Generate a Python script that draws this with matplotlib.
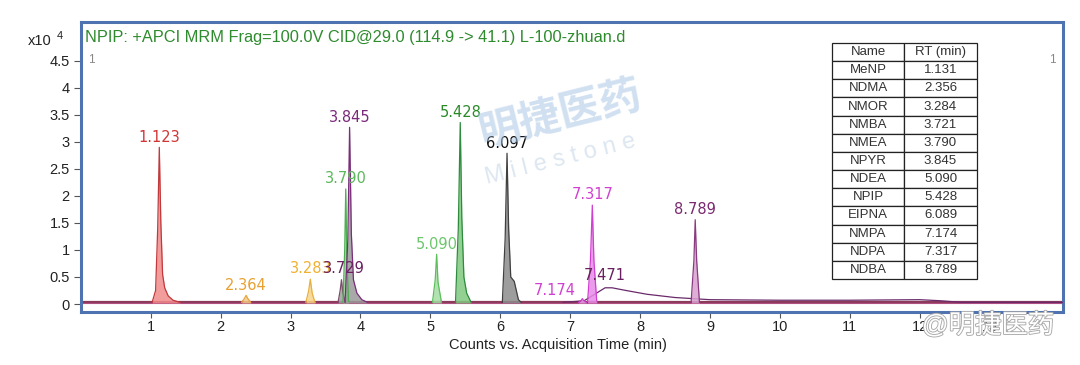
import matplotlib
matplotlib.use("Agg")
import matplotlib.pyplot as plt
import matplotlib.patheffects as pe

plt.rcParams['font.family'] = ['Liberation Sans', 'Noto Sans CJK SC', 'DejaVu Sans']

# ---------------- data ----------------
title_text = "NPIP: +APCI MRM Frag=100.0V CID@29.0 (114.9 -> 41.1) L-100-zhuan.d"
x_label = "Counts vs. Acquisition Time (min)"
x_ticks = [1, 2, 3, 4, 5, 6, 7, 8, 9, 10, 11, 12, 13]
y_ticks = [0, 0.5, 1, 1.5, 2, 2.5, 3, 3.5, 4, 4.5]
y_tick_labels = ["0", "0.5", "1", "1.5", "2", "2.5", "3", "3.5", "4", "4.5"]

# peak outlines (time in min, counts in 1e4)
peak_labels = ["1.123", "2.364", "3.283", "3.729", "3.790", "3.845",
               "5.090", "5.428", "6.097", "7.174", "7.317", "8.789"]
peak_times = [
    [1.02, 1.07, 1.10, 1.123, 1.145, 1.17, 1.20, 1.25, 1.32, 1.42],
    [2.30, 2.34, 2.364, 2.39, 2.43],
    [3.22, 3.26, 3.283, 3.31, 3.35],
    [3.68, 3.71, 3.729, 3.75, 3.78],
    [3.75, 3.775, 3.790, 3.805, 3.83],
    [3.78, 3.82, 3.845, 3.87, 3.90, 3.95, 4.02, 4.10],
    [5.03, 5.07, 5.090, 5.11, 5.16],
    [5.36, 5.40, 5.428, 5.45, 5.48, 5.52, 5.58],
    [6.03, 6.07, 6.097, 6.12, 6.15, 6.20, 6.26, 6.30],
    [7.12, 7.16, 7.174, 7.19, 7.23],
    [7.25, 7.29, 7.317, 7.34, 7.38],
    [8.73, 8.77, 8.789, 8.81, 8.85],
]
peak_values = [
    [0.03, 0.25, 1.4, 2.90, 1.5, 0.55, 0.30, 0.15, 0.07, 0.03],
    [0.03, 0.10, 0.16, 0.10, 0.03],
    [0.03, 0.25, 0.46, 0.20, 0.03],
    [0.03, 0.25, 0.45, 0.20, 0.04],
    [0.03, 1.00, 2.13, 0.90, 0.05],
    [0.03, 1.20, 3.27, 1.30, 0.45, 0.20, 0.08, 0.03],
    [0.03, 0.45, 0.92, 0.40, 0.03],
    [0.03, 1.40, 3.36, 1.60, 0.50, 0.20, 0.04],
    [0.03, 1.20, 2.79, 1.40, 0.50, 0.42, 0.08, 0.03],
    [0.03, 0.07, 0.10, 0.07, 0.03],
    [0.05, 0.80, 1.83, 0.80, 0.06],
    [0.03, 0.80, 1.56, 0.80, 0.03],
]
line_colors = ["#c0393b", "#e8a33c", "#e8b040", "#7a4a6a", "#4caf50", "#7b2d7b",
               "#5cbf5c", "#2e8b3e", "#404040", "#d040d0", "#d040d0", "#8a3a80"]
fill_colors = ["#f28b8b", "#f5c98a", "#f7d488", "#a0a0a0", "#8fd18f", "#9a9a9a",
               "#a5dca5", "#7fc97f", "#8c8c8c", "#eaa0ea", "#e88ae8", "#d9a0d0"]
label_colors = ["#d03535", "#e8a030", "#f0b030", "#6a2060", "#5cb85c", "#7b2a7b",
                "#6cc66c", "#2a8a2a", "#111111", "#d040d0", "#d040d0", "#7a2a70"]

# broad hump (7.471) with long tail
hump_times = [6.9, 7.2, 7.4, 7.5, 7.6, 7.8, 8.1, 8.5, 9.0, 10.0, 11.0, 12.0, 12.3, 12.6, 14.05]
hump_values = [0.03, 0.06, 0.22, 0.30, 0.30, 0.25, 0.18, 0.12, 0.08, 0.07, 0.07, 0.08, 0.06, 0.03, 0.03]
hump_label = "7.471"

baseline_times = [0.0, 14.05]
baseline_values = [0.03, 0.03]

table_header = ["Name", "RT (min)"]
table_names = ["MeNP", "NDMA", "NMOR", "NMBA", "NMEA", "NPYR",
               "NDEA", "NPIP", "EIPNA", "NMPA", "NDPA", "NDBA"]
table_rts = ["1.131", "2.356", "3.284", "3.721", "3.790", "3.845",
             "5.090", "5.428", "6.089", "7.174", "7.317", "8.789"]

# ---------------- figure ----------------
W, H = 1080, 365
fig = plt.figure(figsize=(W / 100, H / 100), dpi=100)
ax = fig.add_axes([80.8 / W, (H - 312) / H, (1063 - 80.8) / W, (312 - 22) / H])
ax.set_xlim(0, 14.05)
ax.set_ylim(-0.148, 5.22)

# baseline
ax.plot(baseline_times, baseline_values, color="#8b3a5a", lw=1.6, zorder=2)
ax.plot(baseline_times, [v - 0.02 for v in baseline_values], color="#b05080", lw=0.8, zorder=2)

# hump
ax.plot(hump_times, hump_values, color="#6a2a6a", lw=0.9, zorder=3)

# peaks
for t, v, lc, fc in zip(peak_times, peak_values, line_colors, fill_colors):
    ax.fill_between(t, 0.02, v, color=fc, alpha=0.85, lw=0, zorder=3)
    ax.plot(t, v, color=lc, lw=0.9, zorder=4)

# peak labels
lab_font = dict(family="DejaVu Sans", fontsize=10.5)
special = {"7.174": (6.78, 0.12), "3.729": (3.76, 0.52)}
for lab, t, v, c in zip(peak_labels, peak_times, peak_values, label_colors):
    i = v.index(max(v))
    if lab in special:
        x, y = special[lab]
        ax.text(x, y, lab, color=c, ha="center", va="bottom", zorder=6, **lab_font)
    else:
        ax.annotate(lab, (t[i], v[i]), xytext=(0, 2), textcoords="offset points",
                    color=c, ha="center", va="bottom", zorder=6, **lab_font)
ax.text(7.5, 0.38, hump_label, color="#6a2060", ha="center", va="bottom", zorder=6, **lab_font)

# axes styling
for s in ax.spines.values():
    s.set_color("#4f73b0")
    s.set_linewidth(2.2)
ax.set_xticks(x_ticks)
ax.set_xticklabels([str(x) for x in x_ticks])
ax.set_yticks(y_ticks)
ax.set_yticklabels(y_tick_labels)
ax.tick_params(axis="both", direction="out", length=5, width=0.8, color="#555555",
               labelsize=10.5, labelcolor="#222222", pad=3)
ax.tick_params(axis="x", length=4, pad=2)

ax.text(0.004, 0.945, title_text, transform=ax.transAxes, color="#2e8b2e",
        fontsize=11.8, ha="left", va="center")
ax.text(0.007, 0.869, "1", transform=ax.transAxes, color="#888888", fontsize=8.5, ha="left", va="center")
ax.text(0.993, 0.869, "1", transform=ax.transAxes, color="#888888", fontsize=8.5, ha="right", va="center")

fig.text(28 / W, 1 - 41 / H, "x10", fontsize=10.5, color="#222222", ha="left", va="center")
fig.text(57 / W, 1 - 36 / H, "4", fontsize=8, color="#222222", ha="left", va="center")
fig.text(558 / W, 1 - 345 / H, x_label, fontsize=10.5, color="#222222", ha="center", va="center")

# watermarks
fig.text(560 / W, 1 - 115 / H, "明捷医药", fontsize=30, color="#a9c7e6", alpha=0.55,
         rotation=14, ha="center", va="center", fontweight="bold", zorder=1)
fig.text(560 / W, 1 - 160 / H, "M i l e s t o n e", fontsize=17, color="#c7d7e8", alpha=0.6,
         rotation=14, ha="center", va="center", zorder=1)
fig.text(988 / W, 1 - 325 / H, "@明捷医药", fontsize=19, color="white", ha="center", va="center",
         path_effects=[pe.withStroke(linewidth=1.3, foreground="#aaaaaa")], zorder=10)

# table
cells = [[n, r] for n, r in zip(table_names, table_rts)]
tab_ax = fig.add_axes([832 / W, 1 - 279 / H, (977 - 832) / W, (279 - 43) / H])
tab_ax.axis("off")
tbl = tab_ax.table(cellText=cells, colLabels=table_header, cellLoc="center",
                   bbox=[0, 0, 1, 1], colWidths=[72, 73])
tbl.auto_set_font_size(False)
for (r, c), cell in tbl.get_celld().items():
    cell.set_edgecolor("#222222")
    cell.set_linewidth(0.9)
    cell.get_text().set_fontsize(9.5)
    cell.get_text().set_color("#333333")

fig.savefig("out.png", dpi=100)
